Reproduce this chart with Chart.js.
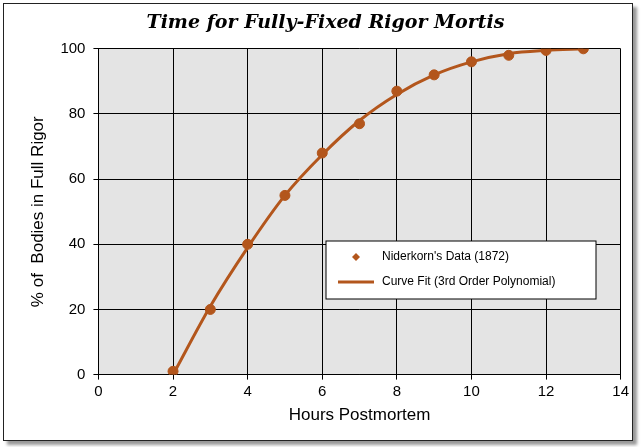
<!DOCTYPE html>
<html><head><meta charset="utf-8">
<script src="https://cdn.jsdelivr.net/npm/chart.js@4"></script>
<style>
body{margin:0;background:#fff;}
#wrap{position:absolute;left:3px;top:3px;width:628px;height:436px;border:1.5px solid #222;box-shadow:4px 4px 3px #999;background:#fff;}
</style></head><body>
<div id="wrap"><canvas id="c" width="628" height="436"></canvas></div>
<script>
const hours = [2, 3, 4, 5, 6, 7, 8, 9, 10, 11, 12, 13];
const percentRigor = [1, 20, 40, 55, 68, 77, 87, 92, 96, 98, 99.5, 100];
const fitHours = [2, 3, 4, 5, 6, 7, 8, 9, 10, 11, 12, 13];
const fitValues = [0, 21, 39, 55, 67.5, 78, 86, 92, 96, 98.5, 99.5, 100];
const xTicks = [0, 2, 4, 6, 8, 10, 12, 14];
const brown = '#b3561c';

const plotBg = {
  id: 'plotBg',
  beforeDraw(chart) {
    const a = chart.chartArea, ctx = chart.ctx;
    ctx.save(); ctx.fillStyle = '#e4e4e4';
    ctx.fillRect(a.left, a.top, a.right - a.left, a.bottom - a.top);
    ctx.restore();
  },
  afterDraw(chart) {
    const ctx = chart.ctx;
    const x0 = 322, y0 = 237, w = 270, h = 58;
    ctx.save();
    ctx.fillStyle = '#fff'; ctx.strokeStyle = '#000'; ctx.lineWidth = 1;
    ctx.fillRect(x0, y0, w, h); ctx.strokeRect(x0, y0, w, h);
    ctx.fillStyle = brown;
    ctx.beginPath();
    ctx.moveTo(x0 + 30, y0 + 12); ctx.lineTo(x0 + 34, y0 + 16);
    ctx.lineTo(x0 + 30, y0 + 20); ctx.lineTo(x0 + 26, y0 + 16); ctx.fill();
    ctx.strokeStyle = brown; ctx.lineWidth = 3;
    ctx.beginPath(); ctx.moveTo(x0 + 12, y0 + 41); ctx.lineTo(x0 + 48, y0 + 41); ctx.stroke();
    ctx.fillStyle = '#000'; ctx.font = '12px "Liberation Sans", Arial';
    ctx.textBaseline = 'middle';
    ctx.fillText("Niderkorn's Data (1872)", x0 + 56, y0 + 16);
    ctx.fillText('Curve Fit (3rd Order Polynomial)', x0 + 56, y0 + 41);
    ctx.restore();
  }
};

new Chart(document.getElementById('c'), {
  type: 'scatter',
  data: {
    datasets: [
      {
        label: 'Curve Fit (3rd Order Polynomial)',
        data: fitHours.map((h, i) => ({x: h, y: fitValues[i]})),
        showLine: true, borderColor: brown, borderWidth: 3, tension: 0.4,
        pointRadius: 0, cubicInterpolationMode: 'monotone'
      },
      {
        label: "Niderkorn's Data (1872)",
        data: hours.map((h, i) => ({x: h, y: percentRigor[i]})),
        backgroundColor: brown, borderColor: brown, pointRadius: 5, pointHoverRadius: 5
      }
    ]
  },
  options: {
    responsive: false, animation: false,
    layout: {padding: {left: 20, right: 5, top: 0, bottom: 12}},
    plugins: {
      legend: {display: false}, tooltip: {enabled: false},
      title: {display: true, text: 'Time for Fully-Fixed Rigor Mortis', color: '#000',
        font: {family: '"DejaVu Serif", serif', size: 19, weight: 'bold', style: 'italic'},
        padding: {top: 8, bottom: 14}}
    },
    scales: {
      x: {
        min: 0, max: 14,
        afterBuildTicks: s => { s.ticks = xTicks.map(v => ({value: v})); },
        grid: {color: '#000', lineWidth: 1, drawTicks: true, tickLength: 5},
        border: {color: '#000'},
        ticks: {color: '#000', font: {family: '"Liberation Sans", Arial', size: 15}},
        title: {display: true, text: 'Hours Postmortem', color: '#000', padding: 2,
          font: {family: '"Liberation Sans", Arial', size: 17}}
      },
      y: {
        min: 0, max: 100,
        ticks: {stepSize: 20, color: '#000', padding: 8, font: {family: '"Liberation Sans", Arial', size: 15}},
        grid: {color: '#000', lineWidth: 1, tickLength: 5},
        border: {color: '#000'},
        title: {display: true, text: '% of  Bodies in Full Rigor', color: '#000',
          font: {family: '"Liberation Sans", Arial', size: 17}}
      }
    }
  },
  plugins: [plotBg]
});
</script>
</body></html>
